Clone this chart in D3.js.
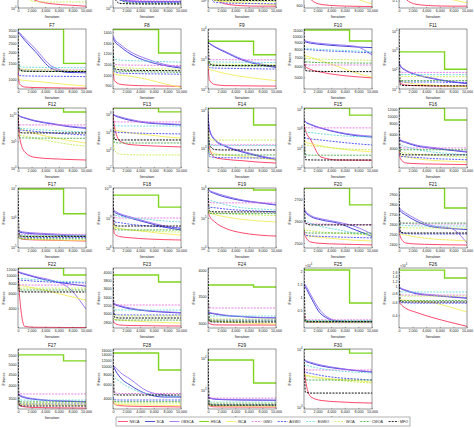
<!DOCTYPE html>
<html><head><meta charset="utf-8">
<script src="https://cdn.jsdelivr.net/npm/d3@7"></script>
<style>
body{margin:0;background:#fff;}
svg{display:block;font-family:"Liberation Sans",Arial,sans-serif;}
</style></head><body>
<svg id="chart" width="474" height="428"></svg>
<script>
// sample iterations shared by every curve, HSCA is drawn as a step
var iters = [0, 200, 1000, 2500, 5000, 7500, 10000];
var stepIter = 6700;
var panelNames = ["F2","F3","F4","F5","F6","F7","F8","F9","F10","F11","F12","F13","F14","F15","F16",
  "F17","F18","F19","F20","F21","F22","F23","F24","F25","F26","F27","F28","F29","F30"];
var xTicks = [0, 2000, 4000, 6000, 8000, 10000];

var yType = ["log","log","log","lin","lin","log","lin","log","log","log","log","log","log","log","log",
  "log","log","log","lin","lin","log","lin","lin","lin","log","log","log","log","log"];
var yDomain = [[1,1e10],[1,1e10],[31.6,3.16e5],[580,1000],[0,0.8],[790,3600],[870,1430],[1e2,1e4],[4100,11300],[10,12600],
  [1,2e11],[1e2,4.6e8],[295,11200],[1e2,1.26e8],[2300,12500],[9.3e4,1e7],[1e8,1e10],[1e4,1e6],[2477,2750],[2360,2960],
  [2300,12300],[2660,4100],[2906,4038],[-2000,21500],[2660,18200],[3130,5850],[2950,16500],[257,1.9e4],[925,1e4]];
var yTicks = [[1,1e5,1e10],[1,1e5,1e10],[1e2,1e3,1e4,1e5],[600,700,800,900,1000],[0.1,0.3,0.5,0.7],
  [1000,1500,2000,2500,3000,3500],[900,1000,1100,1200,1300,1400],[1e2,1e3,1e4],[5000,6000,7000,8000,9000,10000,11000],[1e1,1e2,1e3,1e4],
  [1,1e5,1e10],[1e2,1e4,1e6,1e8],[1e3,1e4],[1e2,1e4,1e6,1e8],[4000,6000,8000,10000,12000],
  [1e5,1e6,1e7],[1e8,1e9,1e10],[1e4,1e5,1e6],[2500,2600,2700],[2400,2500,2600,2700,2800,2900],
  [4000,6000,8000,10000,12000],[2800,3000,3200,3400,3600,3800,4000],[3000,3500,4000],[5000,10000,15000,20000],[4000,6000,8000,10000,12000,14000,16000],
  [3500,4000,4500,5000,5500],[4000,6000,8000,10000,12000,14000,16000],[1e3,1e4],[1e3,1e4]];
var yFmt = ["pow","pow","pow","num","num","num","num","pow","num","pow","pow","pow","pow","pow","num",
  "pow","pow","pow","num","num","num","num","num","e4","e4","num","num","pow","pow"];

var nsca = [[1e9,1e6,300,20,5,3,2],[1e9,1e5,1e3,100,50,40,30],[1e4,1e3,200,60,45,42,42],[900,750,640,605,595,592,590],[0.6,0.3,0.12,0.05,0.03,0.025,0.024],
  [1400,900,830,820,815,810,808],[1050,950,915,905,900,898,895],[800,200,140,130,128,126,125],[6300,6000,5700,5450,5200,5050,4950],[27,20,16,15,14.5,14,14],
  [1e10,1e6,1e3,100,55,40,32],[1e8,5e6,1e5,4e4,3e4,2.5e4,2.2e4],[3000,1000,560,500,460,420,400],[2.3e6,7e5,7e4,1300,650,630,620],[3800,3000,2650,2600,2570,2550,2530],
  [3e5,2e5,1.8e5,1.75e5,1.7e5,1.65e5,1.6e5],[1e9,3e8,2.4e8,2.2e8,2e8,1.9e8,1.85e8],[1.85e5,1.2e5,7.4e4,4.6e4,3.2e4,2.7e4,2.5e4],[2560,2530,2504,2498,2495,2493,2491],[2540,2470,2410,2400,2395,2392,2390],
  [12300,6000,2400,2350,2340,2330,2330],[2850,2780,2732,2720,2715,2710,2708],[3030,2990,2965,2963,2962,2962,2962],[3000,500,150,120,100,100,100],[6200,5800,5000,4400,3700,3200,2800],
  [3400,3250,3200,3180,3170,3165,3160],[3700,3400,3250,3200,3170,3150,3130],[400,320,300,298,296,295,295],[5300,3000,1500,1300,1230,1190,1170]];
var sca = [[1e10,9e9,6e9,4e9,2e9,1.5e9,1e9],[1e9,1e3,30,15,12,12,12],[3e5,2e5,1e5,5e4,2e4,1e4,8e3],[950,940,920,900,880,870,860],[0.7,0.65,0.6,0.55,0.5,0.48,0.46],
  [3330,3200,2700,2050,1320,1200,1190],[1350,1320,1270,1200,1130,1090,1065],[3600,3300,2500,1700,930,650,525],[9300,9100,8900,8700,8500,8350,8250],[220,150,90,55,34,24,19],
  [1e10,6e9,2.5e9,7e8,2e8,6e7,3e7],[1e8,7e7,4e7,2e7,1e7,7.5e6,6e6],[8000,3000,1600,1100,780,600,480],[7.6e6,5e6,2.5e6,1.1e6,4e5,2e5,1.4e5],[5200,5000,4700,4300,4000,3800,3600],
  [3.5e5,3.2e5,3e5,2.8e5,2.6e5,2.4e5,2.3e5],[1.8e9,1.6e9,1.3e9,1e9,7e8,5e8,4e8],[9e5,8e5,6.5e5,5e5,3.8e5,3.2e5,2.7e5],[2650,2640,2620,2605,2590,2560,2530],[2750,2730,2690,2630,2570,2555,2545],
  [11000,10800,10300,9500,8500,7900,7400],[3300,3230,3180,3120,3070,3040,3020],[3200,3190,3170,3140,3120,3100,3094],[14800,14000,10000,3500,600,400,350],[9900,9500,8800,8000,7500,7200,6900],
  [3650,3600,3520,3460,3410,3390,3370],[10400,9500,7400,5870,4540,4160,4160],[700,560,520,500,490,485,480],[6500,6200,5700,5100,4600,4250,4000]];
var obsca = [[1e10,9e9,7e9,5e9,3e9,2e9,1.5e9],[1e9,1e3,25,13,11,11,11],[3e5,2.2e5,1.1e5,5.5e4,2.2e4,1.1e4,9e3],[960,950,930,910,890,875,865],[0.72,0.67,0.62,0.57,0.52,0.5,0.48],
  [3380,3280,2850,2200,1400,1230,1210],[1370,1340,1290,1220,1150,1100,1075],[3700,3400,2600,1800,1000,700,560],[9400,9250,9050,8850,8650,8450,7300],[240,160,95,58,36,25,20],
  [1.2e10,7e9,3e9,9e8,2.5e8,8e7,4e7],[1.1e8,8e7,5e7,2.5e7,1.2e7,8.5e6,7e6],[8500,3200,1700,1150,820,630,500],[8e6,5.5e6,2.8e6,1.2e6,4.5e5,2.4e5,1.7e5],[5300,5100,4800,4400,4100,3850,3650],
  [3.8e5,3.5e5,3.2e5,3e5,2.8e5,2.6e5,2.5e5],[2e9,1.8e9,1.4e9,1.1e9,7.5e8,5.5e8,4.5e8],[9.5e5,8.5e5,7e5,5.5e5,4e5,3.3e5,2.8e5],[2655,2645,2625,2610,2595,2575,2540],[2770,2750,2710,2650,2580,2560,2410],
  [11200,11000,10500,9700,8700,7000,3900],[3320,3250,3200,3140,3080,3050,3030],[3210,3200,3180,3150,3125,3105,3100],[15500,14800,11000,4500,800,500,450],[10100,9700,9000,8200,7700,7300,7000],
  [3700,3640,3550,3480,3420,3400,3380],[10400,10000,8530,6980,4950,4410,4160],[720,580,530,510,495,490,485],[6700,6400,5900,5300,4700,4300,4050]];
// HSCA: level before and after the drop at stepIter
var hsca = [[1e10,5e9],[1e10,3e9],[3e5,1e5],[1000,950],[0.8,0.7],
  [3600,1510],[1425,1206],[3900,1380],[11100,9230],[830,105],
  [2e11,3.5e10],[4.6e8,1.7e8],[11200,4000],[1.26e8,2.4e7],[12500,8900],
  [9.3e6,1.35e6],[5.8e9,2.3e9],[1e6,8.6e5],[2750,2673],[2960,2760],
  [12300,10100],[3932,3764],[3717,3679],[20700,7800],[17000,13200],
  [5500,5170],[14700,9040],[8660,1650],[1e4,8500]];
var isca = [[5e9,1e9,1e7,1e5,1e4,5e3,3e3],[1e9,1e6,1e4,1e3,300,200,150],[5e3,500,100,85,70,60,52],[900,880,850,800,720,650,610],[0.5,0.45,0.4,0.3,0.2,0.12,0.07],
  [1100,1000,980,960,920,880,850],[1050,1010,1000,990,960,920,885],[600,450,400,330,260,220,190],[7500,7200,7000,6600,6000,5400,5000],[30,26,22,18,16,14,13],
  [5e7,3e7,1.2e7,3e6,6e5,1.5e5,5e4],[3e6,1.7e6,1.3e6,8e5,5e5,3e5,2.1e5],[1500,900,700,650,600,540,480],[1e5,4.4e4,3e4,1.8e4,9e3,6e3,4.3e3],[3400,3300,3150,3000,2850,2780,2720],
  [2.5e5,2e5,1.9e5,1.8e5,1.75e5,1.7e5,1.7e5],[6e8,5e8,4.5e8,4e8,3.5e8,3e8,2.7e8],[1.9e5,1.5e5,1.3e5,1.1e5,9e4,8e4,7.4e4],[2540,2535,2530,2525,2518,2512,2509],[2510,2500,2490,2470,2450,2440,2430],
  [7800,7600,7400,7000,6300,5600,5000],[2900,2870,2850,2830,2810,2790,2780],[3060,3050,3040,3020,3000,2990,2980],[1500,600,300,250,220,200,200],[6600,6550,6500,6300,6000,5200,4450],
  [3300,3290,3280,3275,3270,3265,3260],[3500,3400,3350,3320,3300,3270,3250],[360,330,325,320,318,316,316],[3600,3560,3400,3200,3000,2850,2700]];
var gwo = [[1e9,1e8,5e7,3e7,2e7,1.5e7,1e7],[1e8,1e3,40,18,16,15,15],[1e4,2e3,1e3,800,700,650,600],[800,760,750,745,740,740,740],[0.5,0.4,0.38,0.37,0.36,0.36,0.36],
  [1300,1290,1285,1280,1280,1280,1280],[1150,1100,1095,1093,1092,1090,1090],[1200,960,950,950,945,940,940],[6500,6200,6150,6150,6150,6150,6150],[90,73,72,72,72,72,72],
  [5e8,1.4e8,1.3e8,1.3e8,1.3e8,1.3e8,1.3e8],[3e7,1.4e7,1.3e7,1.3e7,1.3e7,1.3e7,1.3e7],[3000,1300,1200,1200,1200,1200,1200],[3e6,1.3e6,1.2e6,1.2e6,1.2e6,1.2e6,1.2e6],[4500,4100,4050,4050,4050,4050,4050],
  [3e5,2.75e5,2.7e5,2.7e5,2.7e5,2.7e5,2.7e5],[2e9,1.05e9,1e9,1e9,1e9,1e9,1e9],[4e5,3.3e5,3.2e5,3.2e5,3.2e5,3.2e5,3.2e5],[2600,2590,2588,2586,2585,2584,2583],[2650,2610,2605,2600,2600,2600,2600],
  [8500,7700,7650,7640,7640,7640,7640],[3300,3220,3212,3212,3212,3212,3212],[3350,3290,3283,3283,3283,3283,3283],[2500,1300,1200,1200,1200,1200,1200],[8000,7700,7650,7650,7650,7650,7650],
  [3750,3670,3660,3660,3660,3660,3660],[5500,4700,4600,4600,4600,4600,4600],[650,570,560,560,560,560,560],[4800,4400,4350,4350,4350,4350,4350]];
var agwo = [[1e9,1e7,1e6,5e5,2e5,1e5,8e4],[1e8,500,20,9,8,8,8],[1e4,300,75,68,64,62,60],[750,700,690,685,680,678,676],[0.4,0.3,0.28,0.27,0.26,0.26,0.25],
  [1200,1110,1100,1095,1090,1085,1080],[1100,1030,1020,1015,1012,1010,1008],[700,520,500,490,480,470,460],[8200,8000,7950,7850,7750,7650,7550],[30,24,23,23,23,22,22],
  [5e7,1.5e7,1.2e7,8e6,4e6,2.5e6,1.6e6],[2e6,1e6,9e5,8e5,7e5,6.5e5,6e5],[2000,600,560,550,545,540,540],[3e5,1.1e5,9e4,7e4,4.5e4,3e4,2.2e4],[3400,3200,3150,3100,3000,2950,2900],
  [2.5e5,2.2e5,2.15e5,2.1e5,2.1e5,2.1e5,2.1e5],[9e8,7.4e8,7e8,6.2e8,5.5e8,5e8,4.6e8],[2.6e5,2.3e5,2.2e5,2e5,1.8e5,1.7e5,1.6e5],[2545,2535,2532,2530,2527,2525,2523],[2560,2510,2505,2500,2500,2500,2500],
  [9000,8800,8700,8500,8300,8200,8100],[3050,2980,2975,2972,2972,2972,2972],[3100,3060,3057,3057,3057,3057,3057],[1000,350,300,300,300,300,300],[6500,6000,5950,5900,5900,5900,5900],
  [3400,3310,3300,3300,3300,3300,3300],[4200,3850,3820,3820,3820,3820,3820],[420,370,365,365,365,365,365],[4300,4000,3800,3500,3200,3050,2920]];
var egwo = [[1e9,5e7,1e7,5e6,2e6,1e6,8e5],[1e8,1e3,60,30,25,25,25],[1e4,1e3,400,300,250,220,200],[850,800,790,785,780,778,776],[0.55,0.45,0.43,0.42,0.41,0.4,0.4],
  [1500,1400,1370,1365,1360,1355,1350],[1200,1150,1140,1135,1130,1125,1120],[1000,820,800,790,780,770,760],[8400,8200,8100,8000,7900,7800,7700],[70,57,56,56,55,55,55],
  [8e7,3e7,2.5e7,1.8e7,1.2e7,8e6,6e6],[1e7,5e6,4.8e6,4.7e6,4.6e6,4.6e6,4.6e6],[2500,1200,1150,1150,1150,1150,1150],[1e6,4.6e5,4e5,3e5,2e5,1.6e5,1.4e5],[4600,4400,4200,3900,3600,3450,3320],
  [2.8e5,2.55e5,2.5e5,2.5e5,2.5e5,2.5e5,2.5e5],[1.5e9,1.26e9,1.15e9,1e9,9e8,8e8,7.4e8],[4.5e5,4e5,3.5e5,2.8e5,2.2e5,2e5,1.85e5],[2620,2600,2590,2575,2560,2545,2535],[2640,2590,2585,2582,2580,2580,2580],
  [9500,9300,9100,8900,8600,8400,8300],[3150,3095,3092,3092,3092,3092,3092],[3180,3135,3132,3132,3132,3132,3132],[2000,950,900,900,900,900,900],[9000,8500,8430,8430,8430,8430,8430],
  [3500,3440,3435,3435,3435,3435,3435],[7800,7400,6500,5400,4600,4300,4200],[500,425,420,420,420,420,420],[5400,5300,5000,4600,4200,4000,3850]];
var woa = [[1e8,1e4,100,12,10,10,10],[1e8,1e4,200,60,40,35,30],[1e4,500,100,95,90,88,85],[780,730,720,715,712,710,708],[0.45,0.35,0.33,0.32,0.31,0.31,0.3],
  [1450,1320,1300,1290,1280,1270,1260],[1150,1080,1070,1065,1060,1058,1055],[900,700,680,670,660,650,640],[7200,6900,6850,6800,6750,6700,6650],[55,45,44,44,43,43,43],
  [5e6,1.6e6,1e6,4e5,1e5,3e4,1.3e4],[1e6,1e4,3500,3000,2800,2800,2800],[3000,1700,1600,1600,1600,1600,1600],[6e4,2.2e4,1.8e4,1.5e4,1e4,8e3,7e3],[3800,3600,3500,3400,3300,3200,3100],
  [2.6e5,2.35e5,2.3e5,2.3e5,2.3e5,2.3e5,2.3e5],[6e8,4.6e8,4.4e8,4e8,3.7e8,3.5e8,3.4e8],[1.8e5,1.5e5,1.45e5,1.4e5,1.3e5,1.25e5,1.2e5],[2570,2559,2555,2550,2545,2540,2536],[2600,2565,2562,2560,2560,2560,2560],
  [7500,7000,7000,7000,7000,7000,7000],[3000,2955,2950,2950,2950,2950,2950],[3120,3078,3075,3075,3075,3075,3075],[1500,550,500,500,500,500,500],[8000,7450,7400,7400,7400,7400,7400],
  [3400,3335,3330,3330,3330,3330,3330],[3800,3520,3500,3500,3500,3500,3500],[450,395,390,390,390,390,390],[3800,3450,3300,3100,2900,2700,2600]];
var cwoa = [[1e9,1e6,1e4,3e3,1e3,800,600],[1e8,1e3,30,7,6,6,6],[1e4,600,250,200,180,170,160],[760,720,715,712,710,710,710],[0.42,0.33,0.31,0.3,0.3,0.3,0.3],
  [1400,1250,1240,1235,1230,1228,1225],[1120,1040,1035,1032,1030,1028,1026],[800,610,600,595,590,585,580],[6800,6500,6450,6400,6380,6360,6350],[35,28,27,27,27,27,27],
  [2e6,5e5,4.5e5,4.3e5,4.2e5,4e5,4e5],[5e5,7e4,6e4,6e4,6e4,6e4,6e4],[1500,680,650,650,650,650,650],[1e4,2200,2000,2000,2000,2000,2000],[4200,3880,3850,3850,3850,3850,3850],
  [2.2e5,1.95e5,1.9e5,1.9e5,1.9e5,1.9e5,1.9e5],[5e8,4.1e8,4e8,4e8,4e8,4e8,4e8],[1.7e5,1.42e5,1.4e5,1.4e5,1.4e5,1.4e5,1.4e5],[2560,2547,2545,2545,2545,2545,2545],[2650,2612,2610,2610,2610,2610,2610],
  [7000,6680,6650,6650,6650,6650,6650],[2900,2855,2850,2850,2850,2850,2850],[3080,3040,3038,3038,3038,3038,3038],[1200,420,400,400,400,400,400],[7000,6420,6400,6400,6400,6400,6400],
  [3450,3375,3370,3370,3370,3370,3370],[4000,3660,3640,3640,3640,3640,3640],[400,345,340,340,340,340,340],[3200,2950,2920,2920,2920,2920,2920]];
var mfo = [[1e10,1e5,1e4,5e3,3e3,2e3,2e3],[1e10,50,6,5,4.6,4.6,4.6],[3e5,150,110,105,100,100,100],[1000,700,690,685,680,680,680],[0.8,0.2,0.18,0.17,0.17,0.17,0.17],
  [3600,1300,1240,1235,1232,1230,1230],[1300,1060,1050,1045,1043,1042,1040],[1e4,700,620,610,600,600,600],[11300,5600,5550,5520,5500,5500,5500],[12600,16,15,15,14.5,14.5,14.5],
  [2e11,5e6,4e6,4e6,4e6,4e6,4e6],[4.6e8,1.5e5,1.3e5,1.3e5,1.3e5,1.3e5,1.3e5],[11200,1200,900,880,880,880,880],[1.26e8,700,660,650,650,650,650],[12500,3400,3330,3330,3330,3330,3330],
  [1e7,2.4e5,2.3e5,2.3e5,2.3e5,2.3e5,2.3e5],[1e10,5.6e8,5.4e8,5.4e8,5.4e8,5.4e8,5.4e8],[1e6,1.7e5,1.6e5,1.6e5,1.6e5,1.6e5,1.6e5],[2750,2590,2582,2582,2582,2582,2582],[2960,2520,2510,2510,2510,2510,2510],
  [12300,6400,6300,6300,6300,6300,6300],[4100,2920,2900,2900,2900,2900,2900],[4038,3030,3019,3019,3019,3019,3019],[21500,700,600,600,600,600,600],[18200,6200,6120,6120,6120,6120,6120],
  [5850,3240,3230,3230,3230,3230,3230],[16500,4450,4410,4410,4410,4410,4410],[1.9e4,345,340,340,340,340,340],[1e4,1800,1740,1740,1740,1740,1740]];

var seriesNames = ["NSCA","SCA","OBSCA","HSCA","ISCA","GWO","AGWO","EGWO","WOA","CWOA","MFO"];
var seriesColors = ["#ff2a55","#2525d2","#8d63f2","#7fd51e","#f2ec55","#e46be4","#3c3cff","#5cd6d6","#c2ec48","#35a035","#000000"];
var seriesDashed = [false,false,false,false,false,true,true,true,true,true,true];
var seriesData = [nsca, sca, obsca, hsca, isca, gwo, agwo, egwo, woa, cwoa, mfo];

var svg = d3.select("#chart");
var colLeft = [18, 113, 208, 304, 399];
var rowTop = [-52, 29, 108, 188, 268, 349];
var pw = 68, ph = 60;

function powLabel(sel, d) {
  var e = Math.round(Math.log10(d));
  sel.text("10").append("tspan").attr("dy", -1.5).attr("font-size", 2.7).text(e);
}

panelNames.forEach(function(name, i) {
  var col = i % 5, row = Math.floor(i / 5);
  var g = svg.append("g").attr("transform", "translate(" + colLeft[col] + "," + rowTop[row] + ")");
  var x = d3.scaleLinear().domain([0, 10000]).range([0, pw]);
  var y = (yType[i] == "log" ? d3.scaleLog() : d3.scaleLinear()).domain(yDomain[i]).range([ph, 0]);

  g.append("clipPath").attr("id", "clip" + i).append("rect").attr("width", pw).attr("height", ph);
  g.append("rect").attr("width", pw).attr("height", ph).attr("fill", "#fff");
  var plot = g.append("g").attr("clip-path", "url(#clip" + i + ")");

  seriesData.forEach(function(data, s) {
    var pts;
    if (seriesNames[s] == "HSCA") {
      pts = [[0, data[i][0]], [stepIter, data[i][0]], [stepIter, data[i][1]], [10000, data[i][1]]];
    } else {
      pts = iters.map(function(t, k) { return [t, data[i][k]]; });
    }
    var line = d3.line()
      .x(function(d) { return x(d[0]); })
      .y(function(d) { return y(d[1]); })
      .curve(seriesNames[s] == "HSCA" ? d3.curveLinear : d3.curveMonotoneX);
    plot.append("path")
      .attr("d", line(pts))
      .attr("fill", "none")
      .attr("stroke", seriesColors[s])
      .attr("stroke-width", seriesNames[s] == "HSCA" ? 1.4 : (s == 10 ? 0.95 : 0.85))
      .attr("stroke-dasharray", seriesDashed[s] ? "2,1.2" : null);
  });

  var xAxis = g.append("g").attr("transform", "translate(0," + ph + ")")
    .call(d3.axisBottom(x).tickValues(xTicks).tickSizeInner(-1.2).tickSizeOuter(0).tickPadding(1.6));
  var yAxis = g.append("g")
    .call(d3.axisLeft(y).tickValues(yTicks[i]).tickSizeInner(-1.2).tickSizeOuter(0).tickPadding(1.4)
      .tickFormat(function(d) {
        if (yFmt[i] == "e4") return String(+(d / 1e4).toFixed(2));
        if (yFmt[i] == "pow") return "";
        return String(d);
      }));
  [xAxis, yAxis].forEach(function(a) {
    a.attr("font-size", 3.6).attr("font-family", null);
    a.select(".domain").remove();
    a.selectAll(".tick line").attr("stroke", "#333").attr("stroke-width", 0.4);
    a.selectAll(".tick text").attr("fill", "#222");
  });
  if (yFmt[i] == "pow") {
    yAxis.selectAll(".tick text").each(function(d) { powLabel(d3.select(this), d); });
  }
  g.append("rect").attr("width", pw).attr("height", ph)
    .attr("fill", "none").attr("stroke", "#333").attr("stroke-width", 0.5);

  if (yFmt[i] == "e4") {
    var t = g.append("text").attr("x", 1).attr("y", -1.2).attr("font-size", 3.4).attr("fill", "#222").text("\u00d710");
    t.append("tspan").attr("dy", -1.4).attr("font-size", 2.6).text("4");
  }
  // the top row is cut by the page edge, so only its bottom labels are shown
  if (row > 0) {
    g.append("text").attr("x", pw / 2).attr("y", -2).attr("text-anchor", "middle")
      .attr("font-size", 4.6).attr("fill", "#111").text(name);
    g.append("text").attr("transform", "translate(-13," + (ph / 2) + ") rotate(-90)")
      .attr("text-anchor", "middle").attr("font-size", 4).attr("fill", "#222").text("Fitness");
  }
  g.append("text").attr("x", pw / 2).attr("y", ph + 10).attr("text-anchor", "middle")
    .attr("font-size", 4).attr("fill", "#222").text("Iteration");
});

// legend strip along the bottom
var legX0 = 116, legX1 = 410, legY = 417, legH = 9, sampleLen = 10;
var leg = svg.append("g");
leg.append("rect").attr("x", legX0).attr("y", legY).attr("width", legX1 - legX0).attr("height", legH)
  .attr("fill", "#fff").attr("stroke", "#444").attr("stroke-width", 0.4);
var items = seriesNames.map(function(n, s) {
  var it = leg.append("g");
  it.append("line").attr("x1", 0).attr("x2", sampleLen).attr("y1", 0).attr("y2", 0)
    .attr("stroke", seriesColors[s]).attr("stroke-width", s == 3 ? 1.1 : 0.8)
    .attr("stroke-dasharray", seriesDashed[s] ? "2,1.2" : null);
  var tx = it.append("text").attr("x", sampleLen + 1.5).attr("y", 1.3).attr("font-size", 3.6).attr("fill", "#222").text(n);
  return { g: it, w: sampleLen + 1.5 + tx.node().getComputedTextLength() };
});
var totalW = d3.sum(items, function(d) { return d.w; });
var gap = (legX1 - legX0 - 4 - totalW) / (items.length - 1);
var cx = legX0 + 2;
items.forEach(function(d) {
  d.g.attr("transform", "translate(" + cx + "," + (legY + legH / 2) + ")");
  cx += d.w + gap;
});
</script>
</body></html>
